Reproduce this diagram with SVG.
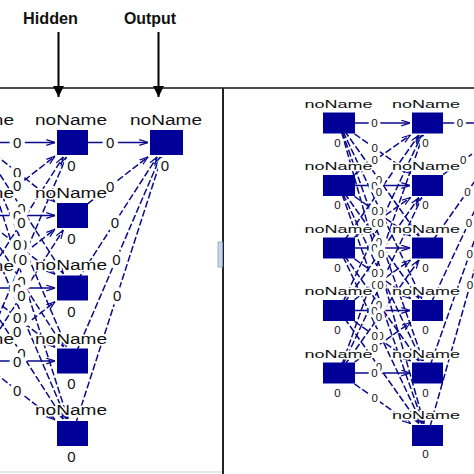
<svg xmlns="http://www.w3.org/2000/svg" width="474" height="474" viewBox="0 0 474 474">
<defs>
<style>
.hdr{font-family:"Liberation Sans",Arial,sans-serif;font-weight:bold;font-size:16px;fill:#111;text-anchor:middle}
.unit{fill:#000099}
.nl{font-family:"Liberation Sans",Arial,sans-serif;font-size:14px;fill:#111;text-anchor:middle;paint-order:stroke;stroke:#fff;stroke-width:3px;stroke-linejoin:round}
.nr{font-family:"Liberation Sans",Arial,sans-serif;font-size:11px;fill:#111;text-anchor:middle;paint-order:stroke;stroke:#fff;stroke-width:3px;stroke-linejoin:round}
.wl{font-family:"Liberation Sans",Arial,sans-serif;font-size:15px;fill:#111;text-anchor:middle;paint-order:stroke;stroke:#fff;stroke-width:8px;stroke-linejoin:round}
.wr{font-family:"Liberation Sans",Arial,sans-serif;font-size:11.5px;fill:#111;text-anchor:middle;paint-order:stroke;stroke:#fff;stroke-width:6px;stroke-linejoin:round}
.h{stroke:#0a0a8a;stroke-width:1.5;fill:none}
.d{stroke:#0a0a8a;stroke-width:1.5;fill:none;stroke-dasharray:7 2.5}
</style>
<marker id="ah" viewBox="0 0 10 8" refX="10" refY="4" markerWidth="9" markerHeight="7" markerUnits="userSpaceOnUse" orient="auto">
<path d="M0,0.8 L10,4 L0,7.2" fill="none" stroke="#0a0a8a" stroke-width="1.4"/>
</marker>
<marker id="bh" viewBox="0 0 10 10" refX="10" refY="5" markerWidth="11" markerHeight="11" markerUnits="userSpaceOnUse" orient="auto">
<path d="M0,0 L10,5 L0,10 Z" fill="#000"/>
</marker>
</defs>
<rect width="474" height="474" fill="#fff"/>

<g id="headers">
<text class="hdr" x="50.5" y="24" textLength="55" lengthAdjust="spacingAndGlyphs">Hidden</text>
<text class="hdr" x="150" y="24" textLength="52" lengthAdjust="spacingAndGlyphs">Output</text>
<line x1="58.5" y1="32" x2="58.5" y2="97" stroke="#000" stroke-width="2" marker-end="url(#bh)"/>
<line x1="158.5" y1="32" x2="158.5" y2="97" stroke="#000" stroke-width="2" marker-end="url(#bh)"/>
</g>

<g id="frame">
<line x1="0" y1="88" x2="474" y2="88" stroke="#111" stroke-width="1.5"/>
<line x1="223" y1="88" x2="223" y2="474" stroke="#222" stroke-width="2"/>
<line x1="0" y1="472" x2="222" y2="472" stroke="#cfcfcf" stroke-width="1.2"/>
<rect x="218" y="242" width="4.5" height="25" fill="#c9d6ec" stroke="#8da4c9" stroke-width="0.8"/>
</g>

<g id="connectors">
<g id="links-left">
<line class="h" x1="-20.5" y1="142.5" x2="55" y2="142.5" marker-end="url(#ah)"/>
<line class="d" x1="-20.5" y1="142.5" x2="55" y2="201.8" marker-end="url(#ah)"/>
<line class="d" x1="-20.5" y1="142.5" x2="63.3" y2="273.5" marker-end="url(#ah)"/>
<line class="d" x1="-20.5" y1="142.5" x2="66.3" y2="346.5" marker-end="url(#ah)"/>
<line class="d" x1="-20.5" y1="142.5" x2="67.9" y2="419" marker-end="url(#ah)"/>
<line class="d" x1="-20.5" y1="215.5" x2="55" y2="156.2" marker-end="url(#ah)"/>
<line class="h" x1="-20.5" y1="215.5" x2="55" y2="215.5" marker-end="url(#ah)"/>
<line class="d" x1="-20.5" y1="215.5" x2="55" y2="274.3" marker-end="url(#ah)"/>
<line class="d" x1="-20.5" y1="215.5" x2="63.3" y2="346.5" marker-end="url(#ah)"/>
<line class="d" x1="-20.5" y1="215.5" x2="66.3" y2="419" marker-end="url(#ah)"/>
<line class="d" x1="-20.5" y1="288" x2="63.3" y2="157" marker-end="url(#ah)"/>
<line class="d" x1="-20.5" y1="288" x2="55" y2="229.2" marker-end="url(#ah)"/>
<line class="h" x1="-20.5" y1="288" x2="55" y2="288" marker-end="url(#ah)"/>
<line class="d" x1="-20.5" y1="288" x2="55" y2="347.3" marker-end="url(#ah)"/>
<line class="d" x1="-20.5" y1="288" x2="63.3" y2="419" marker-end="url(#ah)"/>
<line class="d" x1="-20.5" y1="361" x2="66.3" y2="157" marker-end="url(#ah)"/>
<line class="d" x1="-20.5" y1="361" x2="63.3" y2="230" marker-end="url(#ah)"/>
<line class="d" x1="-20.5" y1="361" x2="55" y2="301.7" marker-end="url(#ah)"/>
<line class="h" x1="-20.5" y1="361" x2="55" y2="361" marker-end="url(#ah)"/>
<line class="d" x1="-20.5" y1="361" x2="55" y2="419.8" marker-end="url(#ah)"/>
<line class="h" x1="72.5" y1="142.5" x2="148" y2="142.5" marker-end="url(#ah)"/>
<line class="d" x1="72.5" y1="215.5" x2="148" y2="156.9" marker-end="url(#ah)"/>
<line class="d" x1="72.5" y1="288" x2="157.1" y2="157" marker-end="url(#ah)"/>
<line class="d" x1="72.5" y1="361" x2="160.3" y2="157" marker-end="url(#ah)"/>
<line class="d" x1="72.5" y1="433.5" x2="161.8" y2="157" marker-end="url(#ah)"/>
</g>
<g id="links-right">
<line class="h" x1="339" y1="123" x2="410" y2="123" marker-end="url(#ah)"/>
<line class="d" x1="339" y1="123" x2="410.5" y2="173.5" marker-end="url(#ah)"/>
<line class="d" x1="339" y1="123" x2="419" y2="236" marker-end="url(#ah)"/>
<line class="d" x1="339" y1="123" x2="421.8" y2="298.5" marker-end="url(#ah)"/>
<line class="d" x1="339" y1="123" x2="423.25" y2="361" marker-end="url(#ah)"/>
<line class="d" x1="339" y1="123" x2="424.1" y2="423.5" marker-end="url(#ah)"/>
<line class="d" x1="339" y1="185.5" x2="410.5" y2="135" marker-end="url(#ah)"/>
<line class="h" x1="339" y1="185.5" x2="410" y2="185.5" marker-end="url(#ah)"/>
<line class="d" x1="339" y1="185.5" x2="410.5" y2="236" marker-end="url(#ah)"/>
<line class="d" x1="339" y1="185.5" x2="419" y2="298.5" marker-end="url(#ah)"/>
<line class="d" x1="339" y1="185.5" x2="421.8" y2="361" marker-end="url(#ah)"/>
<line class="d" x1="339" y1="185.5" x2="423.25" y2="423.5" marker-end="url(#ah)"/>
<line class="d" x1="339" y1="248" x2="419" y2="135" marker-end="url(#ah)"/>
<line class="d" x1="339" y1="248" x2="410.5" y2="197.5" marker-end="url(#ah)"/>
<line class="h" x1="339" y1="248" x2="410" y2="248" marker-end="url(#ah)"/>
<line class="d" x1="339" y1="248" x2="410.5" y2="298.5" marker-end="url(#ah)"/>
<line class="d" x1="339" y1="248" x2="419" y2="361" marker-end="url(#ah)"/>
<line class="d" x1="339" y1="248" x2="421.8" y2="423.5" marker-end="url(#ah)"/>
<line class="d" x1="339" y1="310.5" x2="421.8" y2="135" marker-end="url(#ah)"/>
<line class="d" x1="339" y1="310.5" x2="419" y2="197.5" marker-end="url(#ah)"/>
<line class="d" x1="339" y1="310.5" x2="410.5" y2="260" marker-end="url(#ah)"/>
<line class="h" x1="339" y1="310.5" x2="410" y2="310.5" marker-end="url(#ah)"/>
<line class="d" x1="339" y1="310.5" x2="410.5" y2="361" marker-end="url(#ah)"/>
<line class="d" x1="339" y1="310.5" x2="419" y2="423.5" marker-end="url(#ah)"/>
<line class="d" x1="339" y1="373" x2="423.25" y2="135" marker-end="url(#ah)"/>
<line class="d" x1="339" y1="373" x2="421.8" y2="197.5" marker-end="url(#ah)"/>
<line class="d" x1="339" y1="373" x2="419" y2="260" marker-end="url(#ah)"/>
<line class="d" x1="339" y1="373" x2="410.5" y2="322.5" marker-end="url(#ah)"/>
<line class="h" x1="339" y1="373" x2="410" y2="373" marker-end="url(#ah)"/>
<line class="d" x1="339" y1="373" x2="410.5" y2="423.5" marker-end="url(#ah)"/>
<line class="h" x1="427.5" y1="123" x2="498.5" y2="123" marker-end="url(#ah)"/>
<line class="d" x1="427.5" y1="185.5" x2="499" y2="135" marker-end="url(#ah)"/>
<line class="d" x1="427.5" y1="248" x2="507.5" y2="135" marker-end="url(#ah)"/>
<line class="d" x1="427.5" y1="310.5" x2="510.3" y2="135" marker-end="url(#ah)"/>
<line class="d" x1="427.5" y1="373" x2="511.75" y2="135" marker-end="url(#ah)"/>
<line class="d" x1="427.5" y1="435.5" x2="512.6" y2="135" marker-end="url(#ah)"/>
</g>
<g id="link-weights-left">
<text class="wl" x="17.25" y="148" >0</text>
<text class="wl" x="17.25" y="177.7">0</text>
<text class="wl" x="21.4" y="213.5">0</text>
<text class="wl" x="22.9" y="250">0</text>
<text class="wl" x="23.7" y="286.3">0</text>
<text class="wl" x="17.25" y="191.4">0</text>
<text class="wl" x="17.25" y="221">0</text>
<text class="wl" x="17.25" y="250.4">0</text>
<text class="wl" x="21.4" y="286.5">0</text>
<text class="wl" x="22.9" y="322.8">0</text>
<text class="wl" x="21.4" y="228">0</text>
<text class="wl" x="17.25" y="264.1">0</text>
<text class="wl" x="17.25" y="293.5">0</text>
<text class="wl" x="17.25" y="323.2">0</text>
<text class="wl" x="21.4" y="359">0</text>
<text class="wl" x="22.9" y="264.5">0</text>
<text class="wl" x="21.4" y="301">0</text>
<text class="wl" x="17.25" y="336.9">0</text>
<text class="wl" x="17.25" y="366.5">0</text>
<text class="wl" x="17.25" y="395.9">0</text>
<text class="wl" x="110.25" y="148">0</text>
<text class="wl" x="110.25" y="191.7">0</text>
<text class="wl" x="114.8" y="228">0</text>
<text class="wl" x="116.4" y="264.5">0</text>
<text class="wl" x="117.15" y="300.8">0</text>
</g>
<g id="link-weights-right">
<text class="wr" x="374.5" y="127">0</text>
<text class="wr" x="374.75" y="152.3">0</text>
<text class="wr" x="379" y="183.5">0</text>
<text class="wr" x="380.4" y="214.8">0</text>
<text class="wr" x="381.1" y="246">0</text>
<text class="wr" x="381.55" y="277.3">0</text>
<text class="wr" x="374.75" y="164.3">0</text>
<text class="wr" x="374.5" y="189.5">0</text>
<text class="wr" x="374.75" y="214.8">0</text>
<text class="wr" x="379" y="246">0</text>
<text class="wr" x="380.4" y="277.3">0</text>
<text class="wr" x="381.1" y="308.5">0</text>
<text class="wr" x="379" y="195.5">0</text>
<text class="wr" x="374.75" y="226.8">0</text>
<text class="wr" x="374.5" y="252">0</text>
<text class="wr" x="374.75" y="277.3">0</text>
<text class="wr" x="379" y="308.5">0</text>
<text class="wr" x="380.4" y="339.8">0</text>
<text class="wr" x="380.4" y="226.8">0</text>
<text class="wr" x="379" y="258">0</text>
<text class="wr" x="374.75" y="289.3">0</text>
<text class="wr" x="374.5" y="314.5">0</text>
<text class="wr" x="374.75" y="339.8">0</text>
<text class="wr" x="379" y="371">0</text>
<text class="wr" x="381.1" y="258">0</text>
<text class="wr" x="380.4" y="289.3">0</text>
<text class="wr" x="379" y="320.5">0</text>
<text class="wr" x="374.75" y="351.8">0</text>
<text class="wr" x="374.5" y="377">0</text>
<text class="wr" x="374.75" y="402.3">0</text>
<text class="wr" x="460" y="127">0</text>
<text class="wr" x="463.25" y="164.3">0</text>
<text class="wr" x="467.5" y="195.5">0</text>
<text class="wr" x="468.9" y="226.8">0</text>
<text class="wr" x="469.6" y="258">0</text>
<text class="wr" x="470.05" y="289.3">0</text>
</g>
</g>

<g id="in-L0"><rect class="unit" x="-36" y="130" width="31" height="25"/><text class="nl" x="-22" y="125" textLength="72" lengthAdjust="spacingAndGlyphs">noName</text><text class="wl" x="-21" y="170.5">0</text></g>
<g id="in-L1"><rect class="unit" x="-36" y="203" width="31" height="25"/><text class="nl" x="-22" y="198" textLength="72" lengthAdjust="spacingAndGlyphs">noName</text><text class="wl" x="-21" y="243.5">0</text></g>
<g id="in-L2"><rect class="unit" x="-36" y="275.5" width="31" height="25"/><text class="nl" x="-22" y="270.5" textLength="72" lengthAdjust="spacingAndGlyphs">noName</text><text class="wl" x="-21" y="316">0</text></g>
<g id="in-L3"><rect class="unit" x="-36" y="348.5" width="31" height="25"/><text class="nl" x="-22" y="343.5" textLength="72" lengthAdjust="spacingAndGlyphs">noName</text><text class="wl" x="-21" y="389">0</text></g>

<g id="hid-L0"><rect class="unit" x="57" y="130" width="31" height="25"/><text class="nl" x="71" y="125" textLength="72" lengthAdjust="spacingAndGlyphs">noName</text><text class="wl" x="71.5" y="170.5">0</text></g>
<g id="hid-L1"><rect class="unit" x="57" y="203" width="31" height="25"/><text class="nl" x="71" y="198" textLength="72" lengthAdjust="spacingAndGlyphs">noName</text><text class="wl" x="71.5" y="243.5">0</text></g>
<g id="hid-L2"><rect class="unit" x="57" y="275.5" width="31" height="25"/><text class="nl" x="71" y="270" textLength="72" lengthAdjust="spacingAndGlyphs">noName</text><text class="wl" x="71.5" y="316.5">0</text></g>
<g id="hid-L3"><rect class="unit" x="57" y="348.5" width="31" height="25"/><text class="nl" x="71" y="343.5" textLength="72" lengthAdjust="spacingAndGlyphs">noName</text><text class="wl" x="71.5" y="389">0</text></g>
<g id="hid-L4"><rect class="unit" x="57" y="421" width="31" height="25"/><text class="nl" x="71" y="415" textLength="72" lengthAdjust="spacingAndGlyphs">noName</text><text class="wl" x="71.5" y="462">0</text></g>

<g id="out-L"><rect class="unit" x="150" y="130" width="33" height="25"/><text class="nl" x="166" y="125" textLength="72" lengthAdjust="spacingAndGlyphs">noName</text><text class="wl" x="165" y="170.5">0</text></g>

<g id="in-R0"><rect class="unit" x="323" y="112.5" width="32" height="21"/><text class="nr" x="338.5" y="107.5" textLength="68" lengthAdjust="spacingAndGlyphs">noName</text><text class="wr" x="337.5" y="146.5">0</text></g>
<g id="in-R1"><rect class="unit" x="323" y="175" width="32" height="21"/><text class="nr" x="338.5" y="170" textLength="68" lengthAdjust="spacingAndGlyphs">noName</text><text class="wr" x="337.5" y="209">0</text></g>
<g id="in-R2"><rect class="unit" x="323" y="237.5" width="32" height="21"/><text class="nr" x="338.5" y="232.5" textLength="68" lengthAdjust="spacingAndGlyphs">noName</text><text class="wr" x="337.5" y="271.5">0</text></g>
<g id="in-R3"><rect class="unit" x="323" y="300" width="32" height="21"/><text class="nr" x="338.5" y="295" textLength="68" lengthAdjust="spacingAndGlyphs">noName</text><text class="wr" x="337.5" y="334">0</text></g>
<g id="in-R4"><rect class="unit" x="323" y="362.5" width="32" height="21"/><text class="nr" x="338.5" y="357.5" textLength="68" lengthAdjust="spacingAndGlyphs">noName</text><text class="wr" x="337.5" y="396.5">0</text></g>

<g id="hid-R0"><rect class="unit" x="412" y="112.5" width="31" height="21"/><text class="nr" x="426" y="107.5" textLength="68" lengthAdjust="spacingAndGlyphs">noName</text><text class="wr" x="425.5" y="146.5">0</text></g>
<g id="hid-R1"><rect class="unit" x="412" y="175" width="31" height="21"/><text class="nr" x="426" y="170" textLength="68" lengthAdjust="spacingAndGlyphs">noName</text><text class="wr" x="425.5" y="209">0</text></g>
<g id="hid-R2"><rect class="unit" x="412" y="237.5" width="31" height="21"/><text class="nr" x="426" y="232.5" textLength="68" lengthAdjust="spacingAndGlyphs">noName</text><text class="wr" x="425.5" y="271.5">0</text></g>
<g id="hid-R3"><rect class="unit" x="412" y="300" width="31" height="21"/><text class="nr" x="426" y="295" textLength="68" lengthAdjust="spacingAndGlyphs">noName</text><text class="wr" x="425.5" y="334">0</text></g>
<g id="hid-R4"><rect class="unit" x="412" y="362.5" width="31" height="21"/><text class="nr" x="426" y="357.5" textLength="68" lengthAdjust="spacingAndGlyphs">noName</text><text class="wr" x="425.5" y="396.5">0</text></g>
<g id="hid-R5"><rect class="unit" x="412" y="425" width="31" height="21"/><text class="nr" x="426" y="419" textLength="68" lengthAdjust="spacingAndGlyphs">noName</text><text class="wr" x="425.5" y="458">0</text></g>
</svg>
